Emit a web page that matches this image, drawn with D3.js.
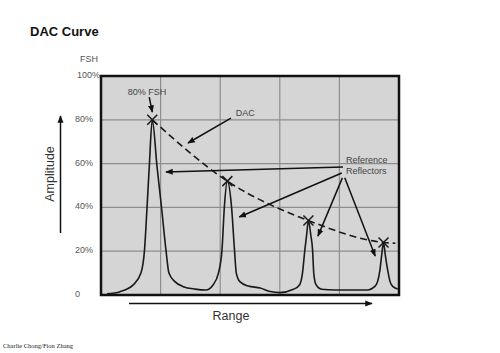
<!DOCTYPE html>
<html>
<head>
<meta charset="utf-8">
<script src="https://cdn.jsdelivr.net/npm/d3@7"></script>
<style>
body{margin:0;background:#fff}
text{font-family:"Liberation Sans",Arial,sans-serif}
</style>
</head>
<body>
<script>
// tick values and labels for amplitude axis
var yTicks=[0,20,40,60,80,100]
var yTickLabels=["0","20%","40%","60%","80%","100%"]
var xGrid=[1,2,3,4]

// echo trace (range units, % FSH)
var traceRange=[0.10,0.32,0.54,0.67,0.73,0.77,0.81,0.86,0.94,1.02,1.09,1.14,1.24,1.38,1.58,1.76,1.88,1.97,2.03,2.07,2.12,2.19,2.24,2.27,2.33,2.47,2.67,2.84,3.00,3.23,3.33,3.38,3.42,3.45,3.48,3.52,3.55,3.57,3.61,3.70,3.93,4.18,4.48,4.59,4.64,4.68,4.71,4.74,4.77,4.81,4.85,4.90,4.98]
var traceAmp=[0.5,1.5,4.6,10,20.5,38.8,58.6,80,58.6,38.8,20.5,10,6.1,3.8,2.7,2.3,4.6,10,20.5,40.3,52,40.3,20.5,10,6.1,4.1,3.2,1.6,1.1,2.6,4.6,9.9,20.5,27.4,34,27.4,20.5,9.9,4.6,2.6,2.3,2.3,2.3,3.8,6.1,11.4,18.3,24,18.3,11.4,6.1,3.8,2.7]

// reference reflector peaks and the DAC curve through them
var peakRange=[0.86,2.12,3.48,4.74]
var peakAmp=[80,52,34,24]
var dacRange=[0.86,2.12,3.48,4.74,4.94]
var dacAmp=[80,52,34,24,23.6]

// annotation arrows [x1,y1,x2,y2] in data units
var arrows=[
  [0.81,90.4,0.86,83.5],
  [2.18,80.8,1.46,69.4],
  [4.06,58.4,1.09,56.2],
  [4.04,55.7,2.32,35.6],
  [4.05,53.5,3.64,26.9],
  [4.09,53.5,4.60,17.8]
]

var width=500, height=353
var svg=d3.select("body").append("svg").attr("width",width).attr("height",height)

var x=d3.scaleLinear().domain([0,5]).range([101,399])
var y=d3.scaleLinear().domain([0,100]).range([295,76])

svg.append("defs").append("marker")
  .attr("id","head").attr("viewBox","0 0 10 10").attr("refX",9).attr("refY",5)
  .attr("markerWidth",5).attr("markerHeight",5).attr("orient","auto")
  .append("path").attr("d","M0,1L10,5L0,9Z").attr("fill","#111")

// title
svg.append("text").attr("x",30).attr("y",36).attr("font-size",13).attr("font-weight","bold").attr("fill","#111").text("DAC Curve")

// plot area
svg.append("rect").attr("x",x(0)).attr("y",y(100)).attr("width",x(5)-x(0)).attr("height",y(0)-y(100)).attr("fill","#d5d5d5")

svg.selectAll(".hg").data(yTicks.slice(1,5)).enter().append("line")
  .attr("x1",x(0)).attr("x2",x(5)).attr("y1",function(d){return y(d)}).attr("y2",function(d){return y(d)})
  .attr("stroke","#8e8e8e").attr("stroke-width",1.2)
svg.selectAll(".vg").data(xGrid).enter().append("line")
  .attr("x1",function(d){return x(d)}).attr("x2",function(d){return x(d)}).attr("y1",y(0)).attr("y2",y(100))
  .attr("stroke","#8e8e8e").attr("stroke-width",1.2)

svg.append("rect").attr("x",x(0)).attr("y",y(100)).attr("width",x(5)-x(0)).attr("height",y(0)-y(100))
  .attr("fill","none").attr("stroke","#111").attr("stroke-width",2.5)

// tick labels
svg.selectAll(".yl").data(yTicks).enter().append("text")
  .attr("x",function(d,i){return i==5?77:75}).attr("y",function(d){return y(d)+2})
  .attr("font-size",9).attr("fill","#555").text(function(d,i){return yTickLabels[i]})
svg.append("text").attr("x",80).attr("y",62).attr("font-size",9).attr("fill","#555").text("FSH")

// trace
var pts=traceRange.map(function(d,i){return [d,traceAmp[i]]})
svg.append("path").datum(pts)
  .attr("d",d3.line().x(function(d){return x(d[0])}).y(function(d){return y(d[1])}).curve(d3.curveMonotoneX))
  .attr("fill","none").attr("stroke","#1a1a1a").attr("stroke-width",1.6)

// DAC dashed curve
var dac=dacRange.map(function(d,i){return [d,dacAmp[i]]})
svg.append("path").datum(dac)
  .attr("d",d3.line().x(function(d){return x(d[0])}).y(function(d){return y(d[1])}).curve(d3.curveMonotoneX))
  .attr("fill","none").attr("stroke","#1a1a1a").attr("stroke-width",1.6).attr("stroke-dasharray","7,4")

// X markers
svg.selectAll(".pk").data(peakRange).enter().append("path")
  .attr("d",function(d,i){var cx=x(d),cy=y(peakAmp[i]);return "M"+(cx-5)+","+(cy-5)+"L"+(cx+5)+","+(cy+5)+"M"+(cx-5)+","+(cy+5)+"L"+(cx+5)+","+(cy-5)})
  .attr("stroke","#1a1a1a").attr("stroke-width",1.5)

// annotation arrows
svg.selectAll(".ar").data(arrows).enter().append("line")
  .attr("x1",function(d){return x(d[0])}).attr("y1",function(d){return y(d[1])})
  .attr("x2",function(d){return x(d[2])}).attr("y2",function(d){return y(d[3])})
  .attr("stroke","#111").attr("stroke-width",1.5).attr("marker-end","url(#head)")

svg.append("text").attr("x",x(0.77)).attr("y",y(92.7)+3).attr("text-anchor","middle").attr("font-size",9).attr("fill","#444").text("80% FSH")
svg.append("text").attr("x",x(2.42)).attr("y",y(83.1)+3).attr("text-anchor","middle").attr("font-size",9).attr("fill","#444").text("DAC")
svg.append("text").attr("x",x(4.11)).attr("y",y(61.6)+3).attr("font-size",9).attr("fill","#444").text("Reference")
svg.append("text").attr("x",x(4.11)).attr("y",y(56.6)+3).attr("font-size",9).attr("fill","#444").text("Reflectors")

// axis titles with arrows
svg.append("text").attr("transform","translate(54,174) rotate(-90)").attr("text-anchor","middle")
  .attr("font-size",12.5).attr("fill","#333").text("Amplitude")
svg.append("line").attr("x1",60.5).attr("y1",233).attr("x2",60.5).attr("y2",116)
  .attr("stroke","#111").attr("stroke-width",1.5).attr("marker-end","url(#head)")
svg.append("text").attr("x",231).attr("y",320).attr("text-anchor","middle")
  .attr("font-size",12.5).attr("fill","#333").text("Range")
svg.append("line").attr("x1",129).attr("y1",303.5).attr("x2",372).attr("y2",303.5)
  .attr("stroke","#111").attr("stroke-width",1.5).attr("marker-end","url(#head)")

// footer
svg.append("text").attr("x",3).attr("y",348).attr("font-size",6.5).style("font-family","'Liberation Serif',serif").attr("fill","#222").text("Charlie Chong/Fion Zhang")
</script>
</body>
</html>
